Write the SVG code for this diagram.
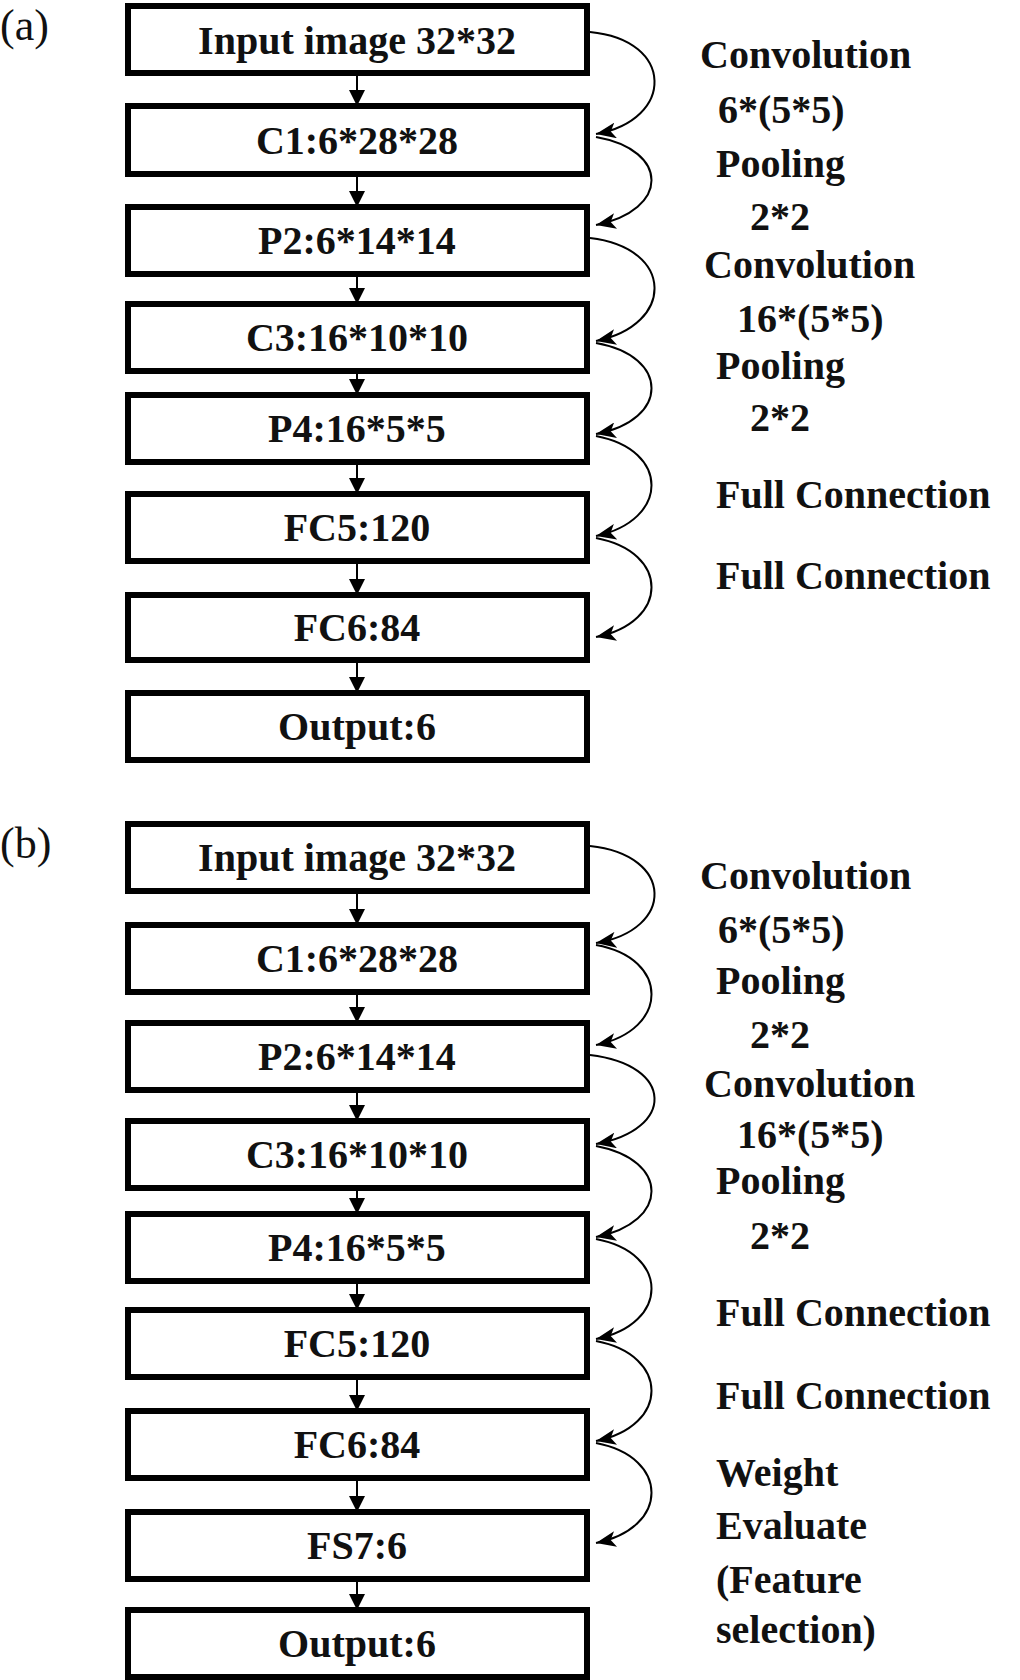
<svg xmlns="http://www.w3.org/2000/svg" width="1020" height="1680" viewBox="0 0 1020 1680">
<style>
rect{fill:#fff;stroke:#000;stroke-width:6}
text{font-family:"Liberation Serif",serif;font-weight:bold;font-size:40px;fill:#111}
.n{text-anchor:middle}
.p{font-weight:normal;font-size:44px}
#conn path{fill:none;stroke:#000;stroke-width:2}
</style>
<defs><marker id="a" markerWidth="16" markerHeight="16" refX="16" refY="8" orient="auto" markerUnits="userSpaceOnUse"><path d="M0,0 L16,8 L0,16z" fill="#000"/></marker>
<marker id="b" markerWidth="22" markerHeight="16" refX="20" refY="8" orient="auto" markerUnits="userSpaceOnUse"><path d="M0,0 L20,8 L0,16 L5,8z" fill="#000"/></marker></defs>
<text class="p" x="0" y="40">(a)</text>
<text class="p" x="0" y="858">(b)</text>
<g id="a1"><rect x="128" y="6" width="459" height="67"/><text class="n" x="357" y="54">Input image 32*32</text></g>
<g id="a2"><rect x="128" y="106" width="459" height="68"/><text class="n" x="357" y="154">C1:6*28*28</text></g>
<g id="a3"><rect x="128" y="207" width="459" height="67"/><text class="n" x="357" y="254">P2:6*14*14</text></g>
<g id="a4"><rect x="128" y="304" width="459" height="67"/><text class="n" x="357" y="351">C3:16*10*10</text></g>
<g id="a5"><rect x="128" y="395" width="459" height="67"/><text class="n" x="357" y="442">P4:16*5*5</text></g>
<g id="a6"><rect x="128" y="494" width="459" height="67"/><text class="n" x="357" y="541">FC5:120</text></g>
<g id="a7"><rect x="128" y="595" width="459" height="65"/><text class="n" x="357" y="641">FC6:84</text></g>
<g id="a8"><rect x="128" y="693" width="459" height="67"/><text class="n" x="357" y="740">Output:6</text></g>
<g id="b1"><rect x="128" y="824" width="459" height="67"/><text class="n" x="357" y="871">Input image 32*32</text></g>
<g id="b2"><rect x="128" y="925" width="459" height="67"/><text class="n" x="357" y="972">C1:6*28*28</text></g>
<g id="b3"><rect x="128" y="1023" width="459" height="67"/><text class="n" x="357" y="1070">P2:6*14*14</text></g>
<g id="b4"><rect x="128" y="1121" width="459" height="67"/><text class="n" x="357" y="1168">C3:16*10*10</text></g>
<g id="b5"><rect x="128" y="1214" width="459" height="67"/><text class="n" x="357" y="1261">P4:16*5*5</text></g>
<g id="b6"><rect x="128" y="1310" width="459" height="67"/><text class="n" x="357" y="1357">FC5:120</text></g>
<g id="b7"><rect x="128" y="1411" width="459" height="67"/><text class="n" x="357" y="1458">FC6:84</text></g>
<g id="b8"><rect x="128" y="1512" width="459" height="67"/><text class="n" x="357" y="1559">FS7:6</text></g>
<g id="b9"><rect x="128" y="1610" width="459" height="67"/><text class="n" x="357" y="1657">Output:6</text></g>
<g id="labels">
<text x="700" y="68">Convolution</text><text x="718" y="123">6*(5*5)</text><text x="716" y="177">Pooling</text><text x="750" y="230">2*2</text>
<text x="704" y="278">Convolution</text><text x="737" y="332">16*(5*5)</text><text x="716" y="379">Pooling</text><text x="750" y="431">2*2</text>
<text x="716" y="508">Full Connection</text><text x="716" y="589">Full Connection</text>
<text x="700" y="889">Convolution</text><text x="718" y="943">6*(5*5)</text><text x="716" y="994">Pooling</text><text x="750" y="1048">2*2</text>
<text x="704" y="1097">Convolution</text><text x="737" y="1148">16*(5*5)</text><text x="716" y="1194">Pooling</text><text x="750" y="1249">2*2</text>
<text x="716" y="1326">Full Connection</text><text x="716" y="1409">Full Connection</text>
<text x="716" y="1486">Weight</text><text x="716" y="1539">Evaluate</text><text x="716" y="1593">(Feature</text><text x="716" y="1643">selection)</text>
</g>
<g id="conn">
<path d="M357 76V106" marker-end="url(#a)"/><path d="M357 177V207" marker-end="url(#a)"/><path d="M357 277V304" marker-end="url(#a)"/><path d="M357 374V395" marker-end="url(#a)"/><path d="M357 465V494" marker-end="url(#a)"/><path d="M357 564V595" marker-end="url(#a)"/><path d="M357 663V693" marker-end="url(#a)"/>
<path d="M357 894V925" marker-end="url(#a)"/><path d="M357 995V1023" marker-end="url(#a)"/><path d="M357 1093V1121" marker-end="url(#a)"/><path d="M357 1191V1214" marker-end="url(#a)"/><path d="M357 1284V1310" marker-end="url(#a)"/><path d="M357 1380V1411" marker-end="url(#a)"/><path d="M357 1481V1512" marker-end="url(#a)"/><path d="M357 1582V1610" marker-end="url(#a)"/>
<path d="M590 32C675 40 675 120 596 134" marker-end="url(#b)"/>
<path d="M596 137C670 150 670 210 596 225" marker-end="url(#b)"/>
<path d="M590 238C675 248 675 325 596 341" marker-end="url(#b)"/>
<path d="M596 343C670 356 670 420 596 434" marker-end="url(#b)"/>
<path d="M596 436C670 450 670 520 596 536" marker-end="url(#b)"/>
<path d="M596 538C670 552 670 622 596 637" marker-end="url(#b)"/>
<path d="M590 846C675 855 675 930 596 943" marker-end="url(#b)"/>
<path d="M596 945C670 958 670 1030 596 1045" marker-end="url(#b)"/>
<path d="M590 1055C675 1065 675 1130 596 1144" marker-end="url(#b)"/>
<path d="M596 1146C670 1160 670 1222 596 1237" marker-end="url(#b)"/>
<path d="M596 1239C670 1253 670 1324 596 1339" marker-end="url(#b)"/>
<path d="M596 1341C670 1355 670 1426 596 1441" marker-end="url(#b)"/>
<path d="M596 1443C670 1457 670 1528 596 1543" marker-end="url(#b)"/>
</g>
</svg>
